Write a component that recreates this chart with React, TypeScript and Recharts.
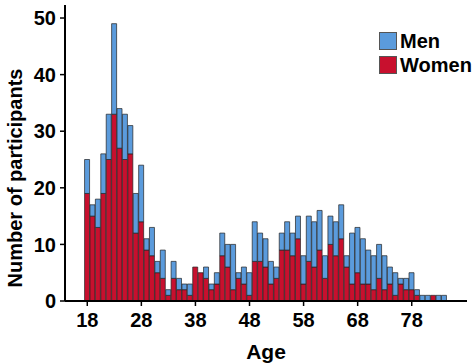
import { BarChart, Bar, XAxis, YAxis } from "recharts";

const AGES = [
  18, 19, 20, 21, 22, 23, 24, 25, 26, 27, 28, 29, 30, 31, 32, 33, 34, 35, 36,
  37, 38, 39, 40, 41, 42, 43, 44, 45, 46, 47, 48, 49, 50, 51, 52, 53, 54, 55,
  56, 57, 58, 59, 60, 61, 62, 63, 64, 65, 66, 67, 68, 69, 70, 71, 72, 73, 74,
  75, 76, 77, 78, 79, 80, 81, 82, 83, 84,
];

// women = lower (red) part of each bar
const WOMEN = [
  19, 15, 13, 19, 25, 33, 27, 25, 26, 12, 14, 9, 8, 5, 4, 1, 4, 2, 2, 1, 6, 5,
  4, 2, 3, 8, 6, 2, 4, 3, 1, 7, 7, 6, 3, 4, 9, 9, 8, 11, 3, 7, 6, 9, 4, 10, 8,
  11, 6, 3, 5, 3, 3, 2, 4, 2, 3, 1, 3, 2, 2, 1, 0, 0, 1, 0, 0,
];

// men = upper (blue) part stacked on top
const MEN = [
  6, 2, 5, 7, 8, 16, 7, 8, 5, 7, 10, 2, 5, 2, 5, 1, 3, 2, 1, 2, 0, 0, 2, 1, 2,
  4, 4, 8, 1, 3, 4, 7, 5, 5, 4, 2, 3, 5, 4, 4, 5, 8, 8, 7, 4, 5, 6, 6, 2, 9, 8,
  8, 6, 6, 6, 6, 3, 4, 1, 2, 3, 1, 1, 1, 0, 1, 1,
];

const X_TICKS = [18, 28, 38, 48, 58, 68, 78];
const Y_TICKS = [0, 10, 20, 30, 40, 50];

const SERIES = [
  { key: "Men", color: "#5B9BDC" },
  { key: "Women", color: "#C8102E" },
];

const FONT = '"Liberation Sans", Arial, Helvetica, sans-serif';

const data = AGES.map((age, i) => ({ age, Women: WOMEN[i], Men: MEN[i] }));

function LegendBox() {
  return (
    <div
      style={{
        position: "absolute",
        left: 379,
        top: 29,
        fontFamily: FONT,
        fontWeight: "bold",
        fontSize: 20,
      }}
    >
      {SERIES.map((s) => (
        <div
          key={s.key}
          style={{ display: "flex", alignItems: "center", height: 24 }}
        >
          <span
            style={{
              width: 16,
              height: 16,
              background: s.color,
              border: "1px solid #555",
              marginRight: 3,
            }}
          />
          <span style={{ color: "#000" }}>{s.key}</span>
        </div>
      ))}
    </div>
  );
}

export default function App() {
  const tickStyle = {
    fill: "#000",
    fontSize: 20,
    fontWeight: "bold",
    fontFamily: FONT,
  };
  return (
    <div style={{ position: "absolute", left: 0, top: 0, width: 474, height: 364, background: "#fff" }}>
      <BarChart
        width={474}
        height={364}
        data={data}
        margin={{ top: 5, right: 7, left: 64, bottom: 62 }}
        barCategoryGap={0}
        barGap={0}
      >
        <XAxis
          dataKey="age"
          type="number"
          domain={[13.88, 88.22]}
          ticks={X_TICKS}
          height={1}
          tick={tickStyle}
          tickSize={5}
          tickMargin={7}
          axisLine={{ stroke: "#000", strokeWidth: 2 }}
          tickLine={{ stroke: "#000", strokeWidth: 1.5 }}
          label={{
            content: () => (
              <text
                x={266}
                y={351}
                textAnchor="middle"
                dominantBaseline="central"
                style={{ fontFamily: FONT, fontWeight: "bold", fontSize: 21, fill: "#000" }}
              >
                Age
              </text>
            ),
          }}
        />
        <YAxis
          type="number"
          domain={[0, 52.3]}
          ticks={Y_TICKS}
          width={1}
          tick={tickStyle}
          tickSize={5}
          tickMargin={4}
          axisLine={{ stroke: "#000", strokeWidth: 2 }}
          tickLine={{ stroke: "#000", strokeWidth: 1.5 }}
          label={{
            content: () => (
              <text
                x={15}
                y={178}
                transform="rotate(-90 15 178)"
                textAnchor="middle"
                dominantBaseline="central"
                style={{ fontFamily: FONT, fontWeight: "bold", fontSize: 20, fill: "#000" }}
              >
                Number of participants
              </text>
            ),
          }}
        />
        <Bar
          dataKey="Women"
          stackId="a"
          fill="#C8102E"
          stroke="#222"
          strokeWidth={0.7}
          isAnimationActive={false}
        />
        <Bar
          dataKey="Men"
          stackId="a"
          fill="#5B9BDC"
          stroke="#222"
          strokeWidth={0.7}
          isAnimationActive={false}
        />
      </BarChart>
      <LegendBox />
    </div>
  );
}
